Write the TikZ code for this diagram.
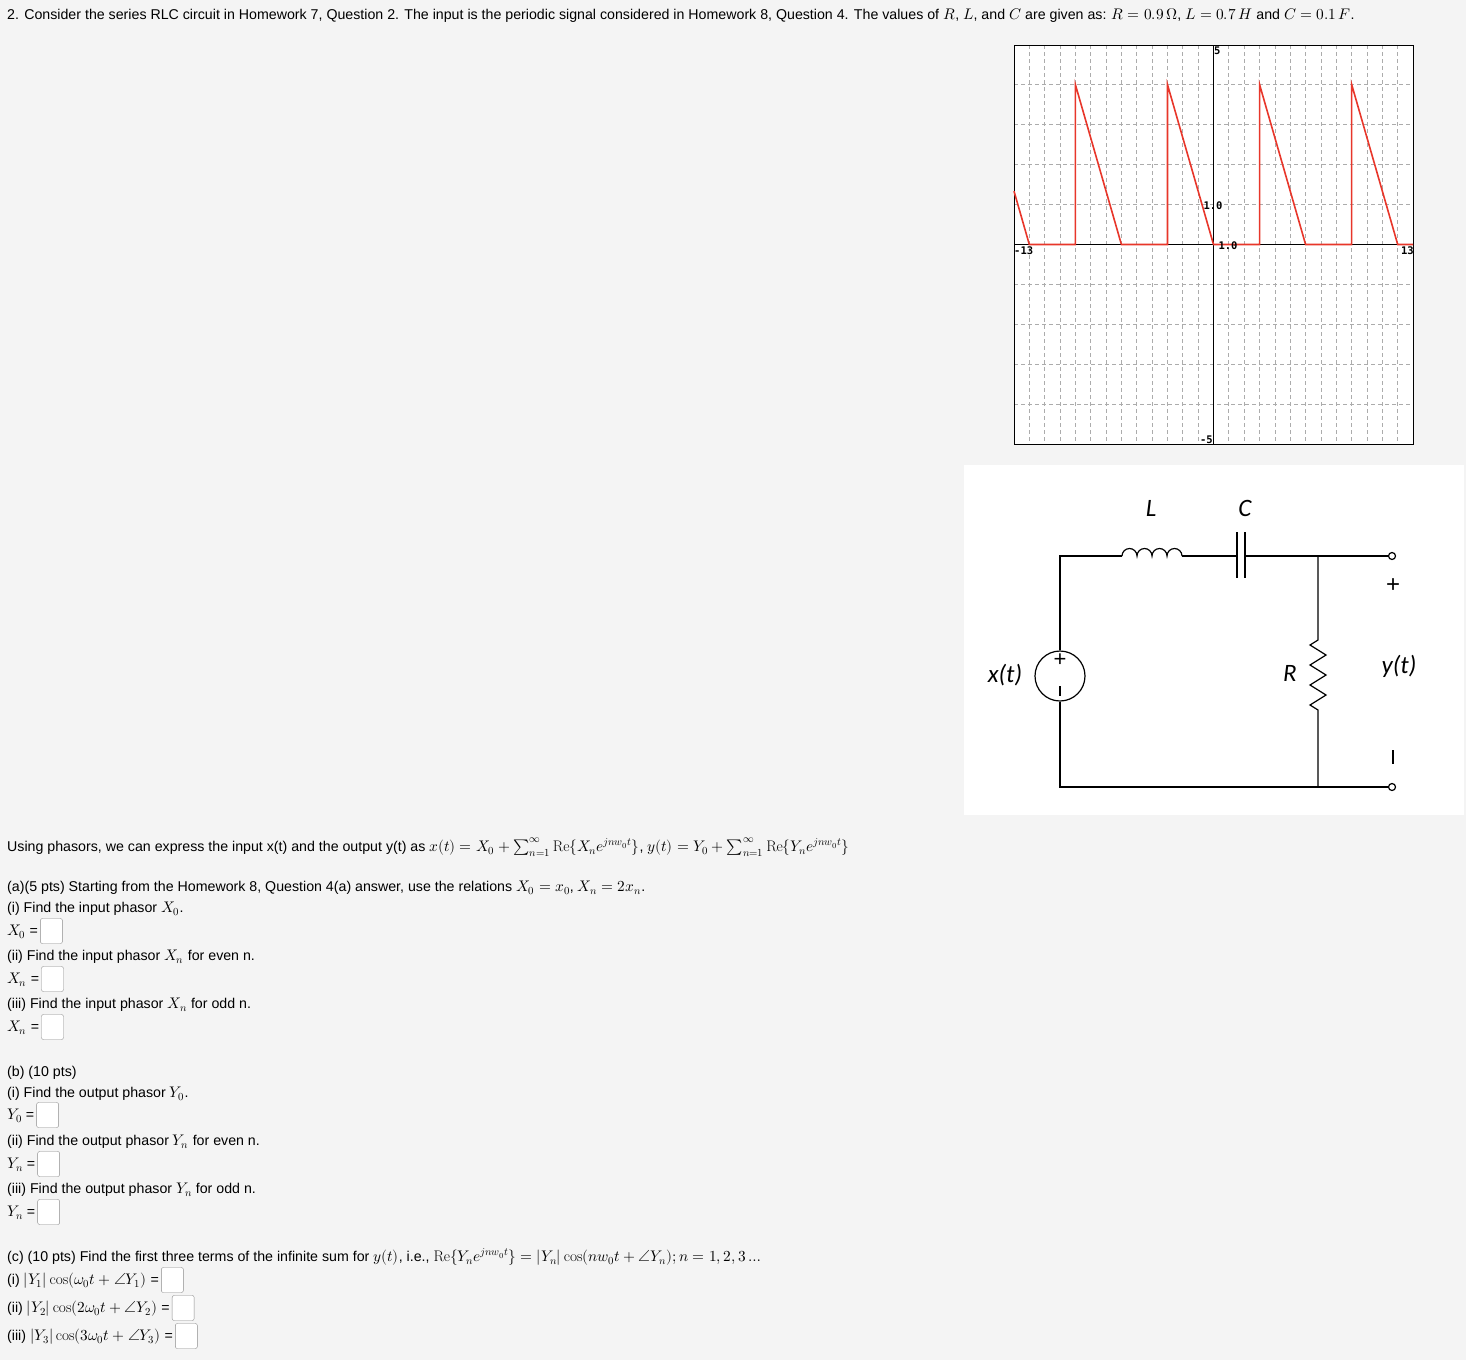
\documentclass[tikz,border=0pt]{standalone}
\usepackage{amsmath,amssymb}
\usepackage{fontspec}
\setmainfont{Liberation Sans}
\newfontfamily\cfont{Carlito}
\newfontfamily\gfont{DejaVu Sans Mono}
\usepackage{unicode-math}
\setmathfont{Latin Modern Math}[Scale=1.08]
\setmathrm{Latin Modern Roman}[Scale=1.08]
\usetikzlibrary{positioning}
\definecolor{bg}{HTML}{F4F4F4}
\definecolor{sig}{HTML}{E8362A}
\tikzset{
 txt/.style={anchor=base west,inner sep=0pt,font=\fontsize{14.2}{16}\selectfont},
 ansbox/.style={draw=black!45,fill=white,rounded corners=2pt,minimum width=22pt,minimum height=25pt,inner sep=0pt,anchor=west},
 grd/.style={gray!65,dash pattern=on 4pt off 3pt,line width=0.8pt},
 lab/.style={font=\gfont\bfseries\fontsize{10.5}{10.5}\selectfont,inner sep=0pt},
 wire/.style={line width=1.2pt},
 clab/.style={font=\cfont\itshape\fontsize{25}{25}\selectfont},
}
\begin{document}
\begin{tikzpicture}[x=1pt,y=-1pt]
\fill[bg] (0,0) rectangle (1466,1360);
\useasboundingbox (0,0) rectangle (1466,1360);
\node[txt] (h) at (7,19) {2. Consider the series RLC circuit in Homework 7, Question 2. The input is the periodic signal considered in Homework 8, Question 4. The values of $R$, $L$, and $C$ are given as: $R=0.9\,\Omega$, $L=0.7\,H$ and $C=0.1\,F$.};
% graph
\fill[white] (1014,45) rectangle (1413,444);
\foreach \i in {-12,...,12} \draw[grd] ({1213.5+\i*15.35},45) -- ({1213.5+\i*15.35},444);
\foreach \j in {-4,...,4} \draw[grd] (1014,{244.5-\j*40}) -- (1413,{244.5-\j*40});
\draw[line width=1pt] (1014,45) rectangle (1413,444);
\draw[line width=0.8pt] (1213.5,45) -- (1213.5,444) (1014,244.5) -- (1413,244.5);
\draw[sig,line width=1.6pt] (1014,{244.5-4/3*40}) -- ({1213.5-12*15.35},244.5) -- ({1213.5-9*15.35},244.5) -- ({1213.5-9*15.35},84.5) -- ({1213.5-6*15.35},244.5) -- ({1213.5-3*15.35},244.5) -- ({1213.5-3*15.35},84.5) -- (1213.5,244.5) -- ({1213.5+3*15.35},244.5) -- ({1213.5+3*15.35},84.5) -- ({1213.5+6*15.35},244.5) -- ({1213.5+9*15.35},244.5) -- ({1213.5+9*15.35},84.5) -- ({1213.5+12*15.35},244.5) -- (1413,244.5);
\node[lab,anchor=north west] (l5) at (1214,47) {5};
\node[lab] (l1a) at (1213,206) {1.0};
\node[lab] (l1b) at (1228,246) {1.0};
\node[lab,anchor=north west] (lm13) at (1014,247) {-13};
\node[lab,anchor=north east] (l13) at (1414,247) {13};
\node[lab,anchor=south east] (lm5) at (1213,444) {-5};
% circuit
\fill[white] (964,465) rectangle (1464,815);
\coordinate (tl) at (1060,556);
\coordinate (bl) at (1060,787);
\coordinate (tr) at (1318,556);
\coordinate (br) at (1318,787);
\node[draw,circle,line width=1.2pt,minimum size=50pt,inner sep=0pt] (src) at (1060,676) {};
\node[font=\fontsize{22}{22}\selectfont] (sp) at (1060,660) {+};
\draw[line width=1.2pt] (1060,686) -- (1060,696);
\node[circle,draw,line width=1.2pt,fill=white,minimum size=7pt,inner sep=0pt] (ot) at (1392,556) {};
\node[circle,draw,line width=1.2pt,fill=white,minimum size=7pt,inner sep=0pt] (ob) at (1392,787) {};
\draw[wire] (src.north) -- (tl) -- (1122,556);
\draw[wire] (1122,556) arc[start angle=180,end angle=360,radius=7.5] arc[start angle=180,end angle=360,radius=7.5] arc[start angle=180,end angle=360,radius=7.5] arc[start angle=180,end angle=360,radius=7.5];
\draw[wire] (1182,556) -- (1237,556);
\draw[line width=1.5pt] (1237,532) -- (1237,578) (1245,532) -- (1245,578);
\draw[wire] (1245,556) -- (ot);
\draw[wire] (src.south) -- (bl) -- (ob);
\draw[wire] (tr) -- (1318,640) -- (1310,645) -- (1326,655) -- (1310,665) -- (1326,675) -- (1310,685) -- (1326,695) -- (1310,705) -- (1318,710) -- (br);
\node[clab] (tL) at (1151,508) {L};
\node[clab] (tC) at (1245,508) {C};
\node[clab] (tR) at (1290,673) {R};
\node[font=\fontsize{24}{24}\selectfont] (tplus) at (1393,586) {+};
\draw[line width=1.4pt] (1393,750) -- (1393,764);
\node[clab] (ty) at (1399,666) {y(t)};
\node[clab] (tx) at (1005,675) {x(t)};
% text
\node[txt] (u) at (7,851) {Using phasors, we can express the input x(t) and the output y(t) as $x(t)=X_0+\sum_{n=1}^{\infty}\mathrm{Re}\{X_n e^{jnw_0t}\}$, $y(t)=Y_0+\sum_{n=1}^{\infty}\mathrm{Re}\{Y_n e^{jnw_0t}\}$};
\node[txt] (a) at (7,891) {(a)(5 pts) Starting from the Homework 8, Question 4(a) answer, use the relations $X_0=x_0$, $X_n=2x_n$.};
\node[txt] (a1) at (7,912) {(i) Find the input phasor $X_0$.};
\node[txt] (a1x) at (7,935) {$X_0$ =};
\node[ansbox] (ba1) at ([xshift=2pt,yshift=4pt]a1x.base east) {};
\node[txt] (a2) at (7,960) {(ii) Find the input phasor $X_n$ for even n.};
\node[txt] (a2x) at (7,983) {$X_n$ =};
\node[ansbox] (ba2) at ([xshift=2pt,yshift=4pt]a2x.base east) {};
\node[txt] (a3) at (7,1008) {(iii) Find the input phasor $X_n$ for odd n.};
\node[txt] (a3x) at (7,1031) {$X_n$ =};
\node[ansbox] (ba3) at ([xshift=2pt,yshift=4pt]a3x.base east) {};
\node[txt] (b) at (7,1076) {(b) (10 pts)};
\node[txt] (b1) at (7,1097) {(i) Find the output phasor $Y_0$.};
\node[txt] (b1x) at (7,1119) {$Y_0$ =};
\node[ansbox] (bb1) at ([xshift=2pt,yshift=4pt]b1x.base east) {};
\node[txt] (b2) at (7,1145) {(ii) Find the output phasor $Y_n$ for even n.};
\node[txt] (b2x) at (7,1168) {$Y_n$ =};
\node[ansbox] (bb2) at ([xshift=2pt,yshift=4pt]b2x.base east) {};
\node[txt] (b3) at (7,1193) {(iii) Find the output phasor $Y_n$ for odd n.};
\node[txt] (b3x) at (7,1216) {$Y_n$ =};
\node[ansbox] (bb3) at ([xshift=2pt,yshift=4pt]b3x.base east) {};
\node[txt] (c) at (7,1261) {(c) (10 pts) Find the first three terms of the infinite sum for $y(t)$, i.e., $\mathrm{Re}\{Y_n e^{jnw_0t}\}=|Y_n|\cos(nw_0t+\angle Y_n); n=1,2,3\ldots$};
\node[txt] (c1) at (7,1284) {(i) $|Y_1|\cos(\omega_0t+\angle Y_1)$ =};
\node[ansbox] (bc1) at ([xshift=2pt,yshift=4pt]c1.base east) {};
\node[txt] (c2) at (7,1312) {(ii) $|Y_2|\cos(2\omega_0t+\angle Y_2)$ =};
\node[ansbox] (bc2) at ([xshift=2pt,yshift=4pt]c2.base east) {};
\node[txt] (c3) at (7,1340) {(iii) $|Y_3|\cos(3\omega_0t+\angle Y_3)$ =};
\node[ansbox] (bc3) at ([xshift=2pt,yshift=4pt]c3.base east) {};
\end{tikzpicture}
\end{document}
